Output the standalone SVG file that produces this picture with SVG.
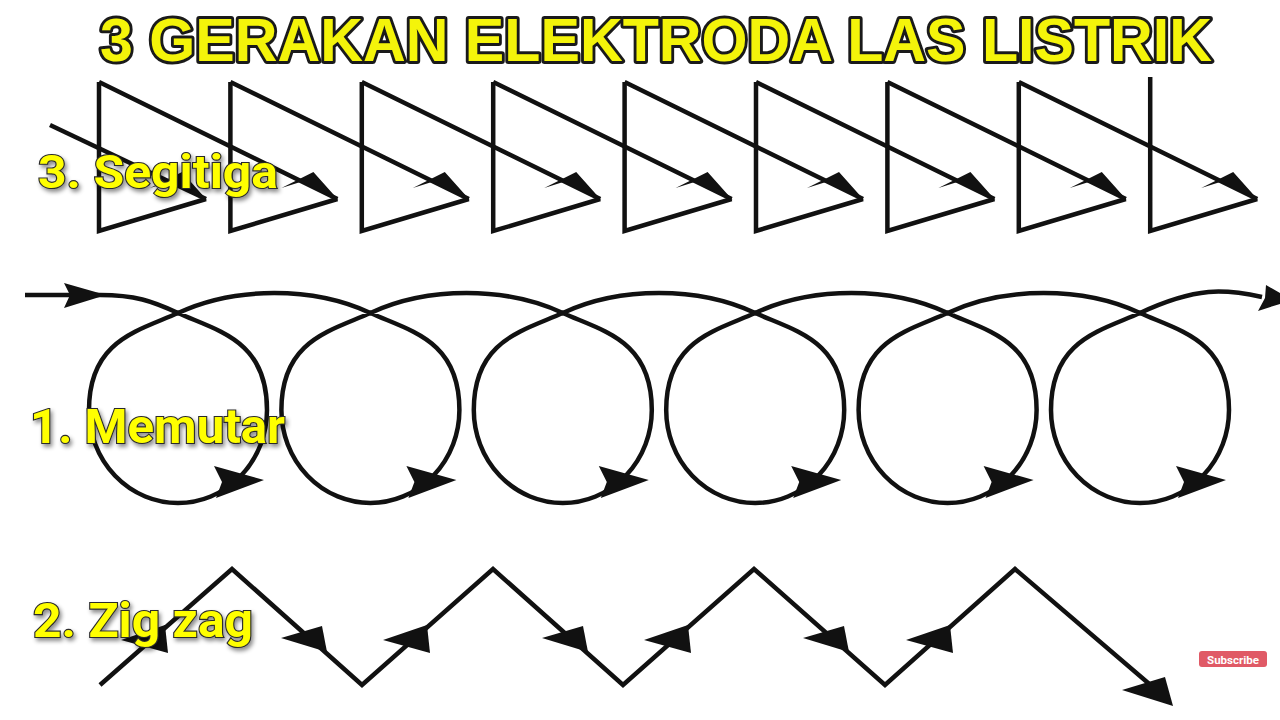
<svg xmlns="http://www.w3.org/2000/svg" width="1280" height="720" viewBox="0 0 1280 720">
<defs>
<style>
.ln{fill:none;stroke:#111;stroke-width:4.5;stroke-linejoin:miter;stroke-linecap:butt}
.ah{fill:#111;stroke:none}
.lbl{font-family:Roboto,"Liberation Sans",sans-serif;font-weight:bold;fill:#ffff00;stroke:#2a2a2a;stroke-width:2.2;paint-order:stroke;filter:url(#sh)}
.ttl{font-family:"Liberation Sans",Arial,sans-serif;font-weight:bold;fill:#f4f40a;stroke:#1a1a1a;stroke-width:6;stroke-linejoin:round;paint-order:stroke}
</style>
<filter id="sh" x="-10%" y="-30%" width="130%" height="160%">
<feDropShadow dx="2" dy="3" stdDeviation="2" flood-color="#000" flood-opacity="0.45"/>
</filter>
</defs>
<rect width="1280" height="720" fill="#ffffff"/>

<g id="title">
<text class="ttl" x="656" y="61" font-size="61" text-anchor="middle" textLength="1112" lengthAdjust="spacingAndGlyphs">3 GERAKAN ELEKTRODA LAS LISTRIK</text>
</g>

<g id="segitiga-pattern">
<path class="ln" d="M50,125 L206,199"/>
<path class="ln" d="M99,82 L99,231 L206,199"/>
<path class="ln" d="M230.4,82 L230.4,231 L337.4,199"/>
<path class="ln" d="M361.8,82 L361.8,231 L468.8,199"/>
<path class="ln" d="M493.2,82 L493.2,231 L600.2,199"/>
<path class="ln" d="M624.6,82 L624.6,231 L731.6,199"/>
<path class="ln" d="M756,82 L756,231 L863,199"/>
<path class="ln" d="M887.4,82 L887.4,231 L994.4,199"/>
<path class="ln" d="M1018.8,82 L1018.8,231 L1125.8,199"/>
<path class="ln" d="M1150.2,77 L1150.2,231 L1257.2,199"/>
<path class="ln" d="M99,82 L337.4,199 M230.4,82 L468.8,199 M361.8,82 L600.2,199 M493.2,82 L731.6,199 M624.6,82 L863,199 M756,82 L994.4,199 M887.4,82 L1125.8,199 M1018.8,82 L1257.2,199"/>
<g class="ah">
<polygon points="150,188 182,172 207,200 169,182"/>
<polygon points="281.4,188 313.4,172 338.4,200 300.4,182"/>
<polygon points="412.8,188 444.8,172 469.8,200 431.8,182"/>
<polygon points="544.2,188 576.2,172 601.2,200 563.2,182"/>
<polygon points="675.6,188 707.6,172 732.6,200 694.6,182"/>
<polygon points="807,188 839,172 864,200 826,182"/>
<polygon points="938.4,188 970.4,172 995.4,200 957.4,182"/>
<polygon points="1069.8,188 1101.8,172 1126.8,200 1088.8,182"/>
<polygon points="1201.2,188 1233.2,172 1258.2,200 1220.2,182"/>
</g>
</g>

<g id="memutar-pattern">
<path class="ln" d="M25,295 L100,295 C135,295 152,301 178,313
C218,331 267,340 267,410 A89,93 0 0 1 89,410 C89,340 138,331 178,313
C235,286.4 313.4,286.4 370.4,313
C410.4,331 459.4,340 459.4,410 A89,93 0 0 1 281.4,410 C281.4,340 330.4,331 370.4,313
C427.4,286.4 505.8,286.4 562.8,313
C602.8,331 651.8,340 651.8,410 A89,93 0 0 1 473.8,410 C473.8,340 522.8,331 562.8,313
C619.8,286.4 698.2,286.4 755.2,313
C795.2,331 844.2,340 844.2,410 A89,93 0 0 1 666.2,410 C666.2,340 715.2,331 755.2,313
C812.2,286.4 890.6,286.4 947.6,313
C987.6,331 1036.6,340 1036.6,410 A89,93 0 0 1 858.6,410 C858.6,340 907.6,331 947.6,313
C1004.6,286.4 1083,286.4 1140,313
C1180,331 1229,340 1229,410 A89,93 0 0 1 1051,410 C1051,340 1100,331 1140,313
C1197,286.4 1225,289 1262,297"/>
<g class="ah">
<polygon points="64,283 106,295 64,308 70,295"/>
<polygon points="1266,285 1292,300 1258,311 1265,298"/>
<polygon points="214,466 264,480 216,498 222,482"/>
<polygon points="406.4,466 456.4,480 408.4,498 414.4,482"/>
<polygon points="598.8,466 648.8,480 600.8,498 606.8,482"/>
<polygon points="791.2,466 841.2,480 793.2,498 799.2,482"/>
<polygon points="983.6,466 1033.6,480 985.6,498 991.6,482"/>
<polygon points="1176,466 1226,480 1178,498 1184,482"/>
</g>
</g>

<g id="zigzag-pattern">
<path class="ln" d="M100,685 L232,569 L362,685 L493,569 L623,685 L754,569 L885,685 L1015,569 L1168,700"/>
<g class="ah">
<polygon points="121,640 165,625 168,653"/>
<polygon points="383,640 427,625 430,653"/>
<polygon points="644,640 688,625 691,653"/>
<polygon points="906,640 950,625 953,653"/>
<polygon points="281,638 322,626 327,652"/>
<polygon points="542,638 583,626 588,652"/>
<polygon points="803,638 844,626 849,652"/>
<polygon points="1122,690 1165,677 1173,706"/>
</g>
</g>

<g id="label-segitiga">
<text class="lbl" x="38" y="188" font-size="46" textLength="240" lengthAdjust="spacingAndGlyphs">3. Segitiga</text>
</g>
<g id="label-memutar">
<text class="lbl" x="30" y="443" font-size="49" textLength="255" lengthAdjust="spacingAndGlyphs">1. Memutar</text>
</g>
<g id="label-zigzag">
<text class="lbl" x="33" y="637" font-size="48" textLength="220" lengthAdjust="spacingAndGlyphs">2. Zig zag</text>
</g>

<g id="subscribe">
<rect x="1199" y="651" width="68" height="16" rx="3" fill="#e05a66"/>
<text x="1233" y="663.5" font-family="Roboto,'Liberation Sans',sans-serif" font-weight="bold" font-size="11.5" fill="#fff" text-anchor="middle">Subscribe</text>
</g>
</svg>
